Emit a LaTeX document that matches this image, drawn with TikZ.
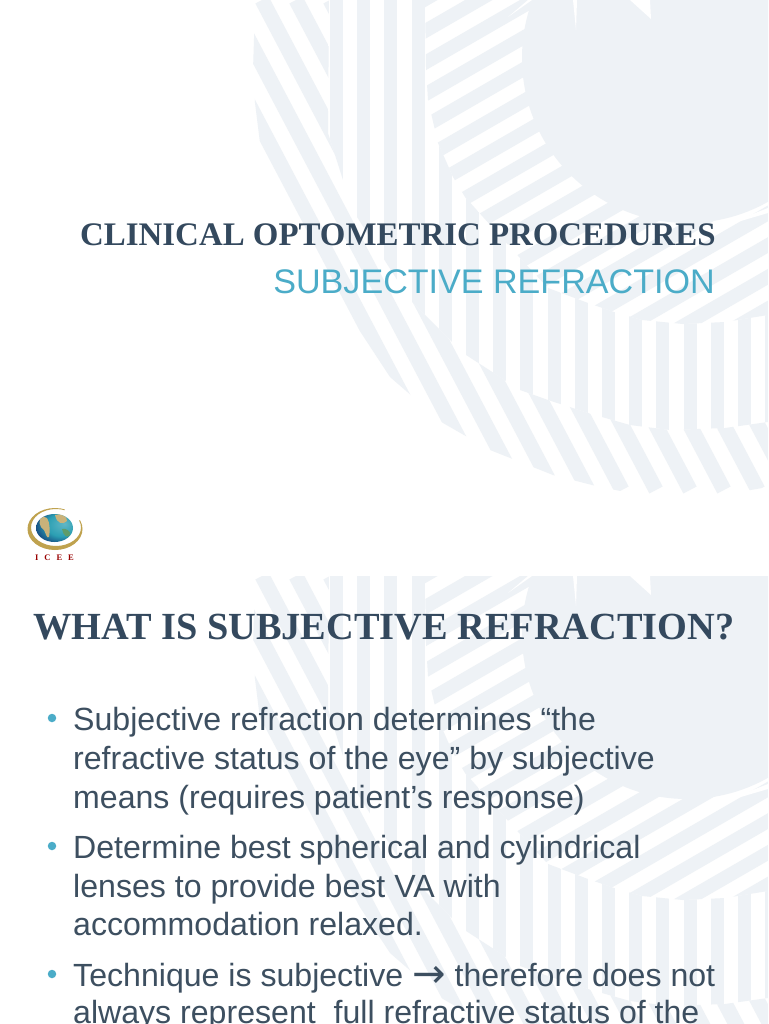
\documentclass[tikz,border=0pt]{standalone}
\usepackage{fontspec}
\setmainfont{Liberation Sans}
\newfontfamily\serifbold[BoldFont={Liberation Serif Bold}]{Liberation Serif}
\newfontfamily\arrowfont{DejaVu Sans}
\definecolor{tint}{HTML}{EEF2F6}
\definecolor{titleink}{HTML}{34495E}
\definecolor{subink}{HTML}{4BACC8}
\definecolor{bodyink}{HTML}{3D4F60}
\definecolor{gold}{HTML}{BFA24E}
\definecolor{landtan}{HTML}{C9B27A}
\definecolor{landgreen}{HTML}{5E9C6A}
\definecolor{seateal}{HTML}{2B9FB3}
\definecolor{seanavy}{HTML}{0E2A6E}
\pgfdeclareradialshading{globesea}{\pgfpoint{14bp}{8bp}}{color(0bp)=(seateal!75!white); color(20bp)=(seateal); color(38bp)=(seanavy); color(60bp)=(seanavy)}
\tikzset{
  titlefont/.style={anchor=base west,inner sep=0pt,text=titleink,font=\fontsize{32.9}{33}\selectfont\serifbold\bfseries},
  subfont/.style={anchor=base east,inner sep=0pt,text=subink,font=\fontsize{34.1}{34}\selectfont},
  bodyline/.style={anchor=base west,inner sep=0pt,text=bodyink,font=\fontsize{32.1}{32}\selectfont},
  bulletdot/.style={circle,fill=subink,inner sep=0pt,minimum size=8.5pt},
}
\newcommand{\slidebg}{%
  % inner ring: stripes rising to the right
  \begin{scope}
    \clip (425,0)--(426,67)--(428,100)--(438,143)--(453,177)--(465,197)--(520,258)--(548,288)--(588,303)--(617,313)--(642,320)--(683,324)--(725,322)--(768,315)--(768,0)--cycle;
    \foreach \k in {0,...,24}{
      \draw[tint,line width=13.7pt] (400,{13.8+31.7*\k})--++(400,-231);
    }
  \end{scope}
  % middle ring: vertical stripes
  \begin{scope}
    \clip (329,0)--(328,133)--(343,180)--(357,217)--(410,300)--(463,353)--(520,390)--(548,400)--(588,413)--(630,425)--(670,430)--(725,428)--(768,422)--(768,315)--(725,322)--(683,324)--(642,320)--(617,313)--(588,303)--(548,288)--(520,258)--(465,197)--(453,177)--(438,143)--(428,100)--(426,67)--(425,0)--cycle;
    \foreach \k in {0,...,16}{
      \fill[tint] ({330+27.2*\k},0) rectangle ++(13,440);
    }
  \end{scope}
  % outer ring: stripes falling to the right
  \begin{scope}
    \clip (255,0)--(255,7)--(253,70)--(255,103)--(260,143)--(275,193)--(287,220)--(390,377)--(443,423)--(490,450)--(553,475)--(592,485)--(625,492)--(658,495)--(722,495)--(768,487)--(768,422)--(725,428)--(670,430)--(630,425)--(588,413)--(548,400)--(520,390)--(463,353)--(410,300)--(357,217)--(343,180)--(328,133)--(329,0)--cycle;
    \foreach \k in {-14,...,8}{
      \draw[tint,line width=15pt] ({622+34*\k},490)--++(-258,-490);
    }
  \end{scope}
  % central disc with its fine white cuts
  \fill[tint] (687,58) circle (165);
  \fill[white] (573,0)--(576,30)--(577,0)--cycle;
  \fill[white] (630,0)--(650,0)--(651,19)--cycle;
  \fill[white] (508,17)--(528,0)--(532,0)--cycle;
  \fill[white] (717,228)--(768,208)--(768,213)--cycle;
}
\begin{document}
\begin{tikzpicture}[x=1pt,y=-1pt]
\useasboundingbox (0,0) rectangle (768,1024);
\clip (0,0) rectangle (768,1024);
\fill[white] (0,0) rectangle (768,1024);
% slide 1
\begin{scope}
  \clip (0,0) rectangle (768,576);
  \slidebg
\end{scope}
% slide 2
\begin{scope}
  \clip (0,576) rectangle (768,1024);
  \begin{scope}[yshift=-576pt]
    \slidebg
  \end{scope}
\end{scope}
% slide 1 text
\node[titlefont] (t1) at (80,245) {CLINICAL OPTOMETRIC PROCEDURES};
\node[subfont] (s1) at (715,293) {SUBJECTIVE REFRACTION};
% logo: gold ring
\fill[gold,even odd rule] (55,529) ellipse (27.5 and 21) (56,527.5) ellipse (25 and 18.5);
\fill[white] (66,505)--(84,513)--(79,521)--(64,513)--cycle;
% logo: globe
\shade[shading=globesea] (54.5,528) ellipse (18.5 and 14);
\begin{scope}
  \clip (54.5,528) ellipse (18.5 and 14);
  \fill[landtan] (42,516) .. controls (38,520) and (39,527) .. (44,530) .. controls (46,534) and (47,539) .. (49,537) .. controls (50,532) and (50,522) .. (47,518) -- cycle;
  \fill[landtan] (55,515) .. controls (60,513) and (68,516) .. (67,521) .. controls (63,525) and (57,524) .. (55,515) -- cycle;
  \fill[landgreen] (62,529) .. controls (66,528) and (71,531) .. (70,535) .. controls (67,539) and (63,535) .. (62,529) -- cycle;
\end{scope}
\node[anchor=base,inner sep=0pt,text=red!60!black,font=\fontsize{8.5}{8.5}\selectfont\serifbold\bfseries] (logotext) at (54.5,560) {I\hspace{6pt}C\hspace{6pt}E\hspace{6pt}E};
% slide 2 text
\node[titlefont,font=\fontsize{38.35}{38}\selectfont\serifbold\bfseries] (t2) at (33,639.5) {WHAT IS SUBJECTIVE REFRACTION?};
\node[bulletdot] (b1) at (52,718) {};
\node[bodyline] (l1) at (73,730) {Subjective refraction determines “the};
\node[bodyline] (l2) at (73,769) {refractive status of the eye” by subjective};
\node[bodyline] (l3) at (73,808) {means (requires patient’s response)};
\node[bulletdot] (b2) at (52,846) {};
\node[bodyline] (l4) at (73,858) {Determine best spherical and cylindrical};
\node[bodyline] (l5) at (73,897) {lenses to provide best VA with};
\node[bodyline] (l6) at (73,935) {accommodation relaxed.};
\node[bulletdot] (b3) at (52,974) {};
\node[bodyline] (l7) at (73,986) {Technique is subjective \raisebox{-1.5pt}{\fontsize{40}{40}\selectfont\arrowfont →} therefore does not};
\node[bodyline] (l8) at (73,1023) {always represent\ \ full refractive status of the};
\end{tikzpicture}
\end{document}
